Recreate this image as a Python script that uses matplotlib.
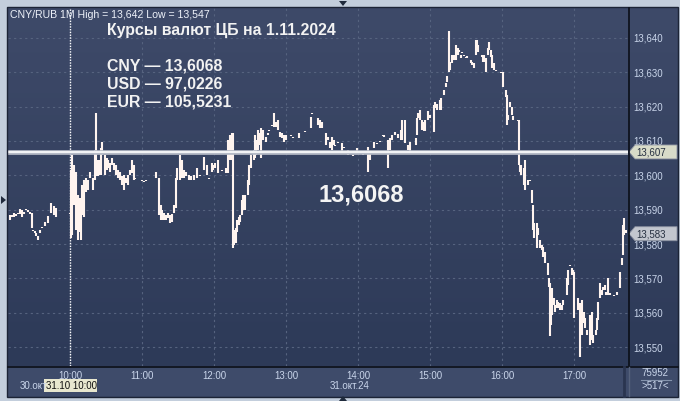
import matplotlib
matplotlib.use("Agg")
import matplotlib.pyplot as plt
import numpy as np
from matplotlib.patches import Rectangle, Polygon
from matplotlib.colors import LinearSegmentedColormap

# ---------------- data (1-minute bars, CNY/RUB, 31.10.2024) ----------------
bar_time = [
    "09:10", "09:12", "09:13", "09:15", "09:17", "09:18", "09:20", "09:22", "09:23", "09:25",
    "09:27", "09:28", "09:29", "09:31", "09:32", "09:33", "09:35", "09:37", "09:39", "09:42",
    "09:44", "09:47", "09:48",
    "10:00", "10:01", "10:02", "10:03", "10:05", "10:07", "10:08", "10:09", "10:10", "10:12",
    "10:13", "10:15", "10:17", "10:19", "10:21", "10:22", "10:23", "10:25", "10:26", "10:27",
    "10:29", "10:31", "10:32", "10:33", "10:35", "10:37", "10:38", "10:40", "10:42", "10:43",
    "10:45", "10:47", "10:48", "10:50", "10:52", "10:53", "10:54",
    "11:00", "11:02", "11:03", "11:12", "11:14", "11:16", "11:17", "11:18", "11:20", "11:22",
    "11:23", "11:25", "11:27", "11:28", "11:29", "11:32", "11:33", "11:35", "11:37", "11:39",
    "11:41", "11:43", "11:46", "11:48", "11:52", "11:54", "11:56", "11:58", "11:59",
    "12:01", "12:03", "12:07", "12:10", "12:12", "12:13", "12:15", "12:16", "12:17", "12:18",
    "12:19", "12:21", "12:22", "12:23", "12:24", "12:26", "12:28", "12:29", "12:31", "12:33",
    "12:34", "12:35", "12:37", "12:38", "12:39", "12:41", "12:43", "12:45", "12:46", "12:48",
    "12:50", "12:52", "12:53", "12:55", "12:57", "12:58",
    "13:00", "13:04", "13:06", "13:11", "13:16", "13:21", "13:22", "13:27", "13:28", "13:30",
    "13:33", "13:35", "13:37", "13:38", "13:40", "13:41", "13:43", "13:47", "13:48", "13:51",
    "13:52", "13:53", "13:56", "13:59",
    "14:02", "14:04", "14:08", "14:10", "14:13", "14:16", "14:18", "14:21", "14:22", "14:25",
    "14:27", "14:28", "14:31", "14:33", "14:36", "14:37", "14:39", "14:42", "14:43", "14:48",
    "14:49", "14:50", "14:52", "14:53", "14:55", "14:56", "14:58",
    "15:00", "15:03", "15:04", "15:06", "15:08", "15:09", "15:12", "15:13", "15:14", "15:16",
    "15:17", "15:18", "15:20", "15:22", "15:23", "15:24", "15:26", "15:27", "15:28", "15:30",
    "15:31", "15:34", "15:35", "15:37", "15:38", "15:39", "15:40", "15:43", "15:44", "15:45",
    "15:47", "15:48", "15:49", "15:51", "15:52", "15:53", "15:55", "15:59",
    "16:01", "16:03", "16:04", "16:05", "16:07", "16:08", "16:09", "16:13", "16:14", "16:15",
    "16:16", "16:18", "16:19", "16:22", "16:23", "16:25", "16:26", "16:27", "16:29", "16:30",
    "16:32", "16:33", "16:34", "16:36", "16:38", "16:39", "16:40", "16:41", "16:42", "16:43",
    "16:44", "16:46", "16:47", "16:48", "16:50", "16:51", "16:54", "16:55", "16:57", "16:58",
    "16:59",
    "17:00", "17:03", "17:05", "17:07", "17:08", "17:09", "17:11", "17:13", "17:15", "17:16",
    "17:18", "17:19", "17:20", "17:22", "17:23", "17:24", "17:26", "17:27", "17:28", "17:30",
    "17:33", "17:36", "17:38", "17:40", "17:41", "17:42", "17:43",
]
bar_high = [
    13.5884, 13.5884, 13.5890, 13.5887, 13.5890, 13.5902, 13.5899, 13.5893, 13.5902, 13.5899,
    13.5893, 13.5890, 13.5841, 13.5838, 13.5832, 13.5823, 13.5841, 13.5849, 13.5864, 13.5881,
    13.5919, 13.5911, 13.5905,
    13.5890, 13.6016, 13.6059, 13.6030, 13.6010, 13.5943, 13.5934, 13.5928, 13.5972, 13.5986,
    13.5992, 13.5986, 13.6010, 13.5992, 13.6074, 13.6182, 13.6045, 13.6045, 13.6080, 13.6097,
    13.6059, 13.6050, 13.6045, 13.6036, 13.6050, 13.6036, 13.6030, 13.6016, 13.6010, 13.5998,
    13.6001, 13.5992, 13.6001, 13.6016, 13.6045, 13.6030, 13.5992,
    13.5986, 13.5983, 13.5986, 13.6010, 13.5992, 13.5914, 13.5899, 13.5890, 13.5884, 13.5890,
    13.5884, 13.5887, 13.5914, 13.5992, 13.6021, 13.6059, 13.6045, 13.6016, 13.6010, 13.6001,
    13.5998, 13.6001, 13.6021, 13.6001, 13.6053, 13.6030, 13.5992, 13.6036, 13.6030,
    13.6036, 13.6045, 13.6016, 13.6021, 13.6103, 13.6117, 13.6123, 13.6123, 13.5841, 13.5847,
    13.5870, 13.5878, 13.5884, 13.5928, 13.5943, 13.5943, 13.5986, 13.6030, 13.6059, 13.6074,
    13.6117, 13.6103, 13.6132, 13.6123, 13.6138, 13.6132, 13.6112, 13.6123, 13.6132, 13.6147,
    13.6182, 13.6155, 13.6161, 13.6126, 13.6123, 13.6117,
    13.6117, 13.6117, 13.6112, 13.6123, 13.6129, 13.6170, 13.6182, 13.6167, 13.6161, 13.6155,
    13.6123, 13.6112, 13.6097, 13.6112, 13.6103, 13.6088, 13.6097, 13.6094, 13.6082, 13.6071,
    13.6074, 13.6065, 13.6059, 13.6080,
    13.6071, 13.6068, 13.6082, 13.6071, 13.6097, 13.6094, 13.6100, 13.6117, 13.6117, 13.6103,
    13.6109, 13.6117, 13.6126, 13.6120, 13.6132, 13.6161, 13.6161, 13.6088, 13.6097, 13.6109,
    13.6167, 13.6182, 13.6190, 13.6161, 13.6155, 13.6161, 13.6187,
    13.6176, 13.6205, 13.6213, 13.6208, 13.6219, 13.6225, 13.6249, 13.6269, 13.6289, 13.6420,
    13.6330, 13.6351, 13.6351, 13.6380, 13.6371, 13.6365, 13.6351, 13.6359, 13.6351, 13.6345,
    13.6348, 13.6336, 13.6330, 13.6327, 13.6394, 13.6394, 13.6380, 13.6351, 13.6351, 13.6351,
    13.6342, 13.6371, 13.6388, 13.6365, 13.6351, 13.6327, 13.6307, 13.6301,
    13.6301, 13.6249, 13.6234, 13.6176, 13.6213, 13.6199, 13.6173, 13.6161, 13.6161, 13.6030,
    13.6030, 13.6021, 13.6045, 13.5986, 13.5986, 13.5957, 13.5914, 13.5861, 13.5861, 13.5847,
    13.5812, 13.5797, 13.5791, 13.5777, 13.5745, 13.5701, 13.5686, 13.5651, 13.5672, 13.5643,
    13.5622, 13.5637, 13.5631, 13.5628, 13.5622, 13.5637, 13.5701, 13.5724, 13.5739, 13.5730,
    13.5724,
    13.5718, 13.5643, 13.5628, 13.5637, 13.5602, 13.5584, 13.5549, 13.5593, 13.5602, 13.5535,
    13.5549, 13.5584, 13.5631, 13.5686, 13.5666, 13.5675, 13.5681, 13.5660, 13.5701, 13.5657,
    13.5651, 13.5660, 13.5718, 13.5759, 13.5855, 13.5876, 13.5841,
]
bar_low = [
    13.5870, 13.5878, 13.5878, 13.5881, 13.5890, 13.5887, 13.5878, 13.5887, 13.5902, 13.5893,
    13.5887, 13.5847, 13.5841, 13.5832, 13.5823, 13.5812, 13.5832, 13.5849, 13.5852, 13.5861,
    13.5890, 13.5884, 13.5878,
    13.5890, 13.5818, 13.5826, 13.5914, 13.5841, 13.5812, 13.5835, 13.5812, 13.5884, 13.5878,
    13.5951, 13.5957, 13.5992, 13.5957, 13.5986, 13.5998, 13.5998, 13.6001, 13.6001, 13.6059,
    13.6001, 13.6016, 13.6021, 13.6010, 13.6030, 13.6016, 13.6001, 13.5992, 13.5986, 13.5972,
    13.5957, 13.5978, 13.5972, 13.6001, 13.6007, 13.5986, 13.5992,
    13.5986, 13.5983, 13.5986, 13.5992, 13.5884, 13.5870, 13.5870, 13.5870, 13.5870, 13.5876,
    13.5861, 13.5864, 13.5890, 13.5905, 13.5986, 13.5986, 13.5992, 13.5992, 13.5998, 13.5986,
    13.5986, 13.5986, 13.5992, 13.6001, 13.6016, 13.6001, 13.5992, 13.6010, 13.6016,
    13.6021, 13.6007, 13.6016, 13.6007, 13.6007, 13.6045, 13.6045, 13.5788, 13.5797, 13.5803,
    13.5835, 13.5855, 13.5864, 13.5884, 13.5899, 13.5899, 13.5943, 13.5972, 13.6021, 13.6045,
    13.6050, 13.6059, 13.6074, 13.6088, 13.6050, 13.6103, 13.6097, 13.6117, 13.6132, 13.6147,
    13.6141, 13.6141, 13.6132, 13.6112, 13.6109, 13.6097,
    13.6103, 13.6117, 13.6112, 13.6109, 13.6129, 13.6138, 13.6182, 13.6147, 13.6138, 13.6138,
    13.6088, 13.6103, 13.6080, 13.6074, 13.6088, 13.6088, 13.6097, 13.6068, 13.6082, 13.6071,
    13.6059, 13.6065, 13.6059, 13.6068,
    13.6071, 13.6059, 13.6010, 13.6045, 13.6080, 13.6094, 13.6100, 13.6117, 13.6112, 13.6021,
    13.6074, 13.6103, 13.6117, 13.6109, 13.6103, 13.6103, 13.6094, 13.6074, 13.6068, 13.6088,
    13.6117, 13.6167, 13.6161, 13.6132, 13.6129, 13.6129, 13.6161,
    13.6167, 13.6126, 13.6196, 13.6190, 13.6190, 13.6190, 13.6234, 13.6257, 13.6272, 13.6301,
    13.6307, 13.6327, 13.6336, 13.6336, 13.6351, 13.6359, 13.6342, 13.6359, 13.6351, 13.6345,
    13.6342, 13.6327, 13.6321, 13.6313, 13.6351, 13.6359, 13.6359, 13.6345, 13.6330, 13.6330,
    13.6301, 13.6351, 13.6365, 13.6345, 13.6313, 13.6307, 13.6307, 13.6301,
    13.6257, 13.6228, 13.6147, 13.6161, 13.6199, 13.6176, 13.6161, 13.6161, 13.6030, 13.6010,
    13.6001, 13.5972, 13.5957, 13.5972, 13.5986, 13.5919, 13.5841, 13.5818, 13.5788, 13.5826,
    13.5788, 13.5783, 13.5762, 13.5745, 13.5710, 13.5675, 13.5532, 13.5564, 13.5593, 13.5622,
    13.5602, 13.5613, 13.5613, 13.5608, 13.5608, 13.5622, 13.5651, 13.5681, 13.5739, 13.5710,
    13.5710,
    13.5584, 13.5608, 13.5470, 13.5535, 13.5570, 13.5555, 13.5535, 13.5506, 13.5520, 13.5511,
    13.5535, 13.5549, 13.5579, 13.5643, 13.5651, 13.5666, 13.5666, 13.5651, 13.5651, 13.5651,
    13.5651, 13.5651, 13.5672, 13.5739, 13.5768, 13.5826, 13.5832,
]

price_ticks = [13.550, 13.560, 13.570, 13.580, 13.590, 13.600, 13.610, 13.620, 13.630, 13.640]
hour_labels = ["10:00", "11:00", "12:00", "13:00", "14:00", "15:00", "16:00", "17:00"]
cb_rate = 13.6068
last_price = 13.583
title_text = "Курсы валют ЦБ на 1.11.2024"
rate_lines = ["CNY — 13,6068", "USD — 97,0226", "EUR — 105,5231"]
big_label = "13,6068"
volume_text = "75952"
bars_text = ">517<"

# ---------------- helpers ----------------
def to_min(s):
    h, m = s.split(":")
    return (int(h) - 10) * 60 + int(m)

def fmt(v, n=3):
    return f"{v:.{n}f}".replace(".", ",")

t = np.array([to_min(s) for s in bar_time], dtype=float)
hi = np.array(bar_high)
lo = np.array(bar_low)
lo_draw = np.minimum(lo, hi - 0.00028)

W, H = 680, 401
FONT = "Liberation Sans"
LBL = "#c9d5ea"

fig = plt.figure(figsize=(6.8, 4.01), dpi=100)
fig.patch.set_facecolor("#c3cedc")

bg = fig.add_axes([0, 0, 1, 1], zorder=0)
bg.set_xlim(0, W); bg.set_ylim(H, 0); bg.axis("off")

# panel backgrounds
bg.add_patch(Rectangle((7, 7), 671, 390, facecolor="#3b4866", edgecolor="none"))
cmap = LinearSegmentedColormap.from_list("g", ["#3e4a69", "#2d3a58"])
grad = np.linspace(0, 1, 200).reshape(-1, 1)
bg.imshow(grad, extent=(8, 678, 366, 8), aspect="auto", cmap=cmap, zorder=1)
bg.add_patch(Rectangle((8, 367), 670, 29, facecolor="#3e4b6a", edgecolor="none", zorder=1))
bg.set_xlim(0, W); bg.set_ylim(H, 0)

# ---------------- main chart axes ----------------
ax = fig.add_axes([8 / W, 1 - 366 / H, 620 / W, 358 / H], zorder=2)
ax.patch.set_alpha(0)
x0 = (8 - 70) / 1.2
x1 = (628 - 70) / 1.2
ax.set_xlim(x0, x1)
ax.set_ylim(13.5445, 13.6487)
for s in ax.spines.values():
    s.set_visible(False)
ax.yaxis.tick_right()
ax.set_yticks(price_ticks)
ax.set_yticklabels([fmt(v) for v in price_ticks], fontsize=7, color=LBL, family=FONT)
ax.set_xticks([to_min(s) for s in hour_labels])
ax.set_xticklabels(hour_labels, fontsize=7, color=LBL, family=FONT)
ax.tick_params(axis="y", length=0, pad=3.5)
ax.tick_params(axis="x", length=0, pad=3.5)
ax.grid(True, color="#56637f", linestyle=(0, (2, 3)), linewidth=0.8)
ax.set_axisbelow(True)

ax.axvline(0, color="white", linestyle=(0, (1, 1)), linewidth=1.0, zorder=2)
ax.vlines(t, lo_draw, hi, color="#fff4ef", linewidth=1.5, zorder=3)
ax.axhline(cb_rate, color="#b5bac6", linewidth=3.4, zorder=4)
ax.axhline(cb_rate, color="#ffffff", linewidth=1.2, zorder=5)

# ---------------- overlay (pixel coords) ----------------
fg = fig.add_axes([0, 0, 1, 1], zorder=5)
fg.patch.set_alpha(0)
fg.set_xlim(0, W); fg.set_ylim(H, 0); fg.axis("off")

fg.plot([628.5, 628.5], [8, 366], color="#0b0f18", lw=1.2)
fg.plot([8, 678], [366.5, 366.5], color="#0b0f18", lw=1.2)
fg.plot([628.5, 628.5], [367, 396], color="#56627c", lw=1.0)
fg.plot([623.5, 623.5], [367, 396], color="#2a3550", lw=2.0)
fg.add_patch(Rectangle((7, 7), 671, 390, facecolor="none", edgecolor="#1c2436", lw=1.0))

# triangles on the frame
fg.add_patch(Polygon([(339, 1), (347, 1), (343, 6)], closed=True, facecolor="#1f2a3c"))
fg.add_patch(Polygon([(339, 401), (347, 401), (343, 396)], closed=True, facecolor="#1f2a3c"))
fg.add_patch(Polygon([(1, 196), (1, 204), (6, 200)], closed=True, facecolor="#1f2a3c"))

# price tags on the right axis
def tag(yc, text, face):
    fg.add_patch(Polygon([(629, yc), (635, yc - 7), (677, yc - 7), (677, yc + 7), (635, yc + 7)],
                         closed=True, facecolor=face, edgecolor="#8a90a0", lw=0.6))
    fg.text(636, yc + 0.5, text, fontsize=7, color="#263040", va="center", ha="left", family=FONT)

def ypix(p):
    return 8 + (13.6487 - p) / (13.6487 - 13.5445) * 358

tag(ypix(cb_rate), fmt(cb_rate), "#d8dbc9")
tag(ypix(last_price), fmt(last_price), "#c2c6ce")

# header / annotations
hdr = f"CNY/RUB 1M High = {fmt(max(bar_high))} Low = {fmt(min(bar_low))}"
fg.text(10, 15, hdr, fontsize=7.6, color="#eef2fa", va="center", ha="left", family=FONT)
fg.text(107, 31, title_text, fontsize=11.4, fontweight="bold", color="#f2f2f2",
        va="center", ha="left", family=FONT)
for i, line in enumerate(rate_lines):
    fg.text(107, 66 + 18 * i, line, fontsize=11.4, fontweight="bold", color="#f2f2f2",
            va="center", ha="left", family=FONT)
fg.text(318, 195, big_label, fontsize=17, fontweight="bold", color="#f4f4f4",
        va="center", ha="left", family=FONT)

# bottom axis extras
fg.text(20, 386, "30.окт", fontsize=7, color=LBL, va="center", ha="left", family=FONT)
fg.add_patch(Rectangle((44, 379), 53, 13, facecolor="#e8e7cf", edgecolor="none"))
fg.text(46, 386, "31.10 10:00", fontsize=7, color="#101010", va="center", ha="left", family=FONT)
fg.text(350, 386, "31.окт.24", fontsize=7, color=LBL, va="center", ha="center", family=FONT)
fg.text(655, 373, volume_text, fontsize=7, color=LBL, va="center", ha="center", family=FONT)
fg.plot([641, 671], [380, 380], color="#8594ad", lw=0.8)
fg.text(655, 386, bars_text, fontsize=7, color=LBL, va="center", ha="center", family=FONT)

fig.savefig("out.png", dpi=100, facecolor=fig.get_facecolor())
